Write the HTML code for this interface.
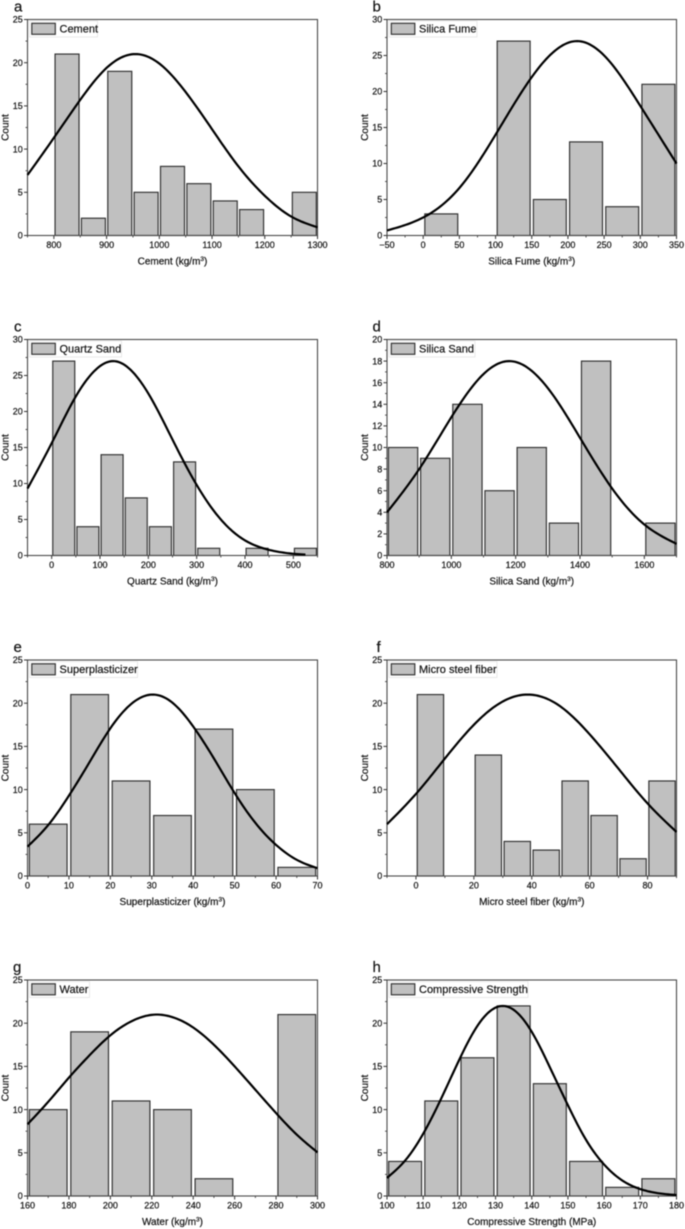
<!DOCTYPE html>
<html lang="en">
<head>
<meta charset="utf-8">
<title>Histograms of mix constituents</title>
<style>
html,body{margin:0;padding:0;background:#fff;width:685px;height:1229px;overflow:hidden}
svg{display:block;filter:blur(0.45px)}
text{font-family:"Liberation Sans",Arial,sans-serif;fill:#161616;stroke:#161616;stroke-width:0.22px}
</style>
</head>
<body>
<svg id="figure" xmlns="http://www.w3.org/2000/svg" width="685" height="1229" viewBox="0 0 685 1229"></svg>
<script>
// ---- Panel a: Cement
const cementBins = [800,850,900,950,1000,1050,1100,1150,1200,1250];
const cementCounts = [21,2,19,5,8,6,4,3,0,5];
const cementCurveX = [750,800,850,900,955,1000,1050,1100,1150,1200,1250,1300];
const cementCurveY = [7,11.3,15.7,19.4,21,19.9,16.6,12.3,8,4.6,2.2,0.95];
const cementXTicks = [800,900,1000,1100,1200,1300];
const cementXTickLabels = ['800','900','1000','1100','1200','1300'];
const cementYTicks = [0,5,10,15,20,25];
const cementYTickLabels = ['0','5','10','15','20','25'];

// ---- Panel b: Silica Fume
const fumeBins = [0,50,100,150,200,250,300];
const fumeCounts = [3,0,27,5,13,4,21];
const fumeCurveX = [-50,0,50,100,150,212,250,300,350];
const fumeCurveY = [0.7,2.5,6.6,14,22,27,25,18,10];
const fumeXTicks = [-50,0,50,100,150,200,250,300,350];
const fumeXTickLabels = ['\u221250','0','50','100','150','200','250','300','350'];
const fumeYTicks = [0,5,10,15,20,25,30];
const fumeYTickLabels = ['0','5','10','15','20','25','30'];

// ---- Panel c: Quartz Sand
const quartzBins = [0,50,100,150,200,250,300,350,400,450,500];
const quartzCounts = [27,4,14,8,4,13,1,0,1,0,1];
const quartzCurveX = [-50,0,50,100,127,150,200,250,300,350,400,450,500,525];
const quartzCurveY = [9.3,15.6,22.1,26.3,27,26.5,22.5,16.1,9.8,5,2.1,0.78,0.24,0.12];
const quartzXTicks = [0,100,200,300,400,500];
const quartzXTickLabels = ['0','100','200','300','400','500'];
const quartzYTicks = [0,5,10,15,20,25,30];
const quartzYTickLabels = ['0','5','10','15','20','25','30'];

// ---- Panel d: Silica Sand
const sandBins = [800,900,1000,1100,1200,1300,1400,1500,1600];
const sandCounts = [10,9,14,6,10,3,18,0,3];
const sandCurveX = [800,900,1000,1100,1180,1300,1400,1500,1600,1700];
const sandCurveY = [4,8,12.8,16.8,18,15.5,10.9,6.2,2.87,1.08];
const sandXTicks = [800,1000,1200,1400,1600];
const sandXTickLabels = ['800','1000','1200','1400','1600'];
const sandYTicks = [0,2,4,6,8,10,12,14,16,18,20];
const sandYTickLabels = ['0','2','4','6','8','10','12','14','16','18','20'];

// ---- Panel e: Superplasticizer
const plastBins = [0,10,20,30,40,50,60];
const plastCounts = [6,21,11,7,17,10,1];
const plastCurveX = [0,5,10,15,20,25,30.2,35,40,45,50,55,60,65,70];
const plastCurveY = [3.4,5.9,9.3,13.2,17.1,19.9,21,20.05,17.3,13.6,9.6,6.15,3.6,1.87,0.9];
const plastXTicks = [0,10,20,30,40,50,60,70];
const plastXTickLabels = ['0','10','20','30','40','50','60','70'];
const plastYTicks = [0,5,10,15,20,25];
const plastYTickLabels = ['0','5','10','15','20','25'];

// ---- Panel f: Micro steel fiber
const fiberBins = [0,10,20,30,40,50,60,70,80];
const fiberCounts = [21,0,14,4,3,11,7,2,11];
const fiberCurveX = [-10,0,10,20,30,38.5,50,60,70,80,90];
const fiberCurveY = [6,9.5,13.6,17.5,20.2,21,19.6,16.4,12.4,8.4,5.1];
const fiberXTicks = [0,20,40,60,80];
const fiberXTickLabels = ['0','20','40','60','80'];
const fiberYTicks = [0,5,10,15,20,25];
const fiberYTickLabels = ['0','5','10','15','20','25'];

// ---- Panel g: Water
const waterBins = [160,180,200,220,240,260,280];
const waterCounts = [10,19,11,10,2,0,21];
const waterCurveX = [160,170,180,190,200,210,222.5,230,240,250,260,270,280,290,300];
const waterCurveY = [8.3,10.9,13.7,16.3,18.6,20.2,21,20.7,19.5,17.5,15,12.3,9.6,7.1,5.05];
const waterXTicks = [160,180,200,220,240,260,280,300];
const waterXTickLabels = ['160','180','200','220','240','260','280','300'];
const waterYTicks = [0,5,10,15,20,25];
const waterYTickLabels = ['0','5','10','15','20','25'];

// ---- Panel h: Compressive Strength
const strengthBins = [100,110,120,130,140,150,160,170];
const strengthCounts = [4,11,16,22,13,4,1,2];
const strengthCurveX = [100,105,110,115,120,125,132,135,140,145,150,155,160,165,170,175,180];
const strengthCurveY = [2.1,4.1,7.2,11.3,15.8,19.7,22,21.55,19,14.9,10.5,6.5,3.64,1.8,0.8,0.32,0.11];
const strengthXTicks = [100,110,120,130,140,150,160,170,180];
const strengthXTickLabels = ['100','110','120','130','140','150','160','170','180'];
const strengthYTicks = [0,5,10,15,20,25];
const strengthYTickLabels = ['0','5','10','15','20','25'];

const SVG_NS = 'http://www.w3.org/2000/svg';
const figure = document.getElementById('figure');

function make(tag, parent, attrs) {
  const el = document.createElementNS(SVG_NS, tag);
  for (const k in attrs) el.setAttribute(k, attrs[k]);
  parent.appendChild(el);
  return el;
}

// natural cubic spline through the read-off curve points
function splineThrough(xs, ys) {
  const n = xs.length;
  const m = new Array(n).fill(0), c = new Array(n).fill(0), d = new Array(n).fill(0);
  for (let i = 1; i < n - 1; i++) {
    const h0 = xs[i] - xs[i-1], h1 = xs[i+1] - xs[i];
    const w = 2 * (h0 + h1) - h0 * c[i-1];
    c[i] = h1 / w;
    d[i] = (6 * ((ys[i+1]-ys[i]) / h1 - (ys[i]-ys[i-1]) / h0) - h0 * d[i-1]) / w;
  }
  for (let i = n - 2; i > 0; i--) m[i] = d[i] - c[i] * m[i+1];
  return function (x) {
    let i = 0;
    while (i < n - 2 && x > xs[i+1]) i++;
    const h = xs[i+1] - xs[i], a = (xs[i+1] - x) / h, b = (x - xs[i]) / h;
    return a*ys[i] + b*ys[i+1] + ((a*a*a - a)*m[i] + (b*b*b - b)*m[i+1]) * h*h / 6;
  };
}

function drawPanel(p) {
  const g = make('g', figure, {});
  
  

  const xScale = v => p.left + (v - p.xMin) / (p.xMax - p.xMin) * (p.right - p.left);
  const yScale = v => p.bottom - (v - p.yMin) / (p.yMax - p.yMin) * (p.bottom - p.top);

  const letter = make('text', g, {x: p.letterX, y: p.top - 8, 'font-size': 15});
  
  
  letter.textContent = p.letter;

  // bars
  const binW = p.bins[1] - p.bins[0];
  p.bins.forEach((b, i) => {
    if (!p.counts[i]) return;
    const cx = xScale(b + binW / 2);
    const w = (xScale(b + binW) - xScale(b)) * 0.91;
    const bar = make('rect', g, {
      x: cx - w / 2, y: yScale(p.counts[i]), width: w,
      height: yScale(0) - yScale(p.counts[i]),
      fill: '#c0c0c0', stroke: '#2e2e2e', 'stroke-width': 1.15
    });
    
    
  });

  // frame
  const frame = make('rect', g, {
    x: p.left, y: p.top, width: p.right - p.left, height: p.bottom - p.top,
    fill: 'none', stroke: '#4a4a4a', 'stroke-width': 1.1
  });
  
  

  // x ticks
  const xAxis = make('g', g, {});
  
  
  for (let k = Math.ceil((p.xMin - p.xTicks[0]) / p.xMinor); p.xTicks[0] + k * p.xMinor <= p.xMax; k++) {
    const v = p.xTicks[0] + k * p.xMinor;
    if (p.xTicks.indexOf(v) >= 0) continue;
    const minor = make('line', xAxis, {x1: xScale(v), x2: xScale(v), y1: p.bottom, y2: p.bottom + 2, stroke: '#444', 'stroke-width': 0.9});
    
    
  }
  p.xTicks.forEach((v, i) => {
    const tick = make('line', xAxis, {x1: xScale(v), x2: xScale(v), y1: p.bottom, y2: p.bottom + 3.5, stroke: '#333', 'stroke-width': 1});
    
    
    const label = make('text', xAxis, {x: xScale(v), y: p.bottom + 12.3, 'font-size': 9, 'text-anchor': 'middle'});
    
    
    label.textContent = p.xTickLabels[i];
  });

  // y ticks
  const yAxis = make('g', g, {});
  
  
  p.yTicks.forEach((v, i) => {
    const tick = make('line', yAxis, {x1: p.left - 3.5, x2: p.left, y1: yScale(v), y2: yScale(v), stroke: '#333', 'stroke-width': 1});
    
    
    const label = make('text', yAxis, {x: p.left - 4.7, y: yScale(v) + 3.2, 'font-size': 9, 'text-anchor': 'end'});
    
    
    label.textContent = p.yTickLabels[i];
    if (i < p.yTicks.length - 1) {
      const mid = (v + p.yTicks[i+1]) / 2;
      const minor = make('line', yAxis, {x1: p.left - 2, x2: p.left, y1: yScale(mid), y2: yScale(mid), stroke: '#444', 'stroke-width': 0.9});
      
      
    }
  });

  // fitted curve
  const f = splineThrough(p.curveX, p.curveY);
  const x0 = p.curveX[0], x1 = p.curveX[p.curveX.length - 1];
  let path = '';
  for (let i = 0; i <= 140; i++) {
    const xv = x0 + (x1 - x0) * i / 140;
    path += (i ? 'L' : 'M') + xScale(xv).toFixed(2) + ' ' + yScale(f(xv)).toFixed(2);
  }
  const curve = make('path', g, {d: path, fill: 'none', stroke: '#000', 'stroke-width': 2.2});
  
  

  // axis titles
  const cx = (p.left + p.right) / 2;
  const xTitle = make('text', g, {x: cx + p.xTitleShift, y: p.bottom + 29, 'font-size': 10, 'text-anchor': 'middle'});
  
  
  if (p.cubed) {
    xTitle.appendChild(document.createTextNode(p.xTitle + ' (kg/m'));
    const sup = make('tspan', xTitle, {dy: -3.5, 'font-size': 6.5});
    sup.textContent = '3';
    const close = make('tspan', xTitle, {dy: 3.5});
    close.textContent = ')';
  } else {
    xTitle.textContent = p.xTitle;
  }
  const cy = (p.top + p.bottom) / 2;
  const yTitle = make('text', g, {x: 0, y: 0, 'font-size': 10, 'text-anchor': 'middle', transform: 'translate(' + (p.left - 18.8) + ' ' + cy + ') rotate(-90)'});
  
  
  yTitle.textContent = 'Count';

  // legend
  const legend = make('g', g, {});
  
  
  const legendBox = make('rect', legend, {x: p.left + 2, y: p.top + 1.5, width: p.legendW, height: 16, fill: '#fff', stroke: '#e2e2e2', 'stroke-width': 0.7});
  
  
  const swatch = make('rect', legend, {x: p.left + 4.3, y: p.top + 3.8, width: 23.5, height: 11, fill: '#c0c0c0', stroke: '#2e2e2e', 'stroke-width': 1.15});
  
  
  const legendText = make('text', legend, {x: p.left + 32, y: p.top + 13.2, 'font-size': 11});
  
  
  legendText.textContent = p.legend;
}

const col1 = {left: 27.5, right: 317.5};
const col2 = {left: 387, right: 676.5};
const row1 = {top: 19.5, bottom: 235.5};
const row2 = {top: 339.5, bottom: 555.5};
const row3 = {top: 660, bottom: 876};
const row4 = {top: 980, bottom: 1196};

drawPanel({letter:'a', letterX:14, left:col1.left, right:col1.right, top:row1.top, bottom:row1.bottom,
  xMin:750, xMax:1300, xMinor:50, yMin:0, yMax:25, xTitle:'Cement', cubed:true, xTitleShift:0, legend:'Cement', legendW:68,
  bins:cementBins, counts:cementCounts, curveX:cementCurveX, curveY:cementCurveY,
  xTicks:cementXTicks, xTickLabels:cementXTickLabels, yTicks:cementYTicks, yTickLabels:cementYTickLabels});
drawPanel({letter:'b', letterX:372.5, left:col2.left, right:col2.right, top:row1.top, bottom:row1.bottom,
  xMin:-50, xMax:350, xMinor:25, yMin:0, yMax:30, xTitle:'Silica Fume', cubed:true, xTitleShift:0, legend:'Silica Fume', legendW:88,
  bins:fumeBins, counts:fumeCounts, curveX:fumeCurveX, curveY:fumeCurveY,
  xTicks:fumeXTicks, xTickLabels:fumeXTickLabels, yTicks:fumeYTicks, yTickLabels:fumeYTickLabels});
drawPanel({letter:'c', letterX:14, left:col1.left, right:col1.right, top:row2.top, bottom:row2.bottom,
  xMin:-50, xMax:550, xMinor:50, yMin:0, yMax:30, xTitle:'Quartz Sand', cubed:true, xTitleShift:0, legend:'Quartz Sand', legendW:92,
  bins:quartzBins, counts:quartzCounts, curveX:quartzCurveX, curveY:quartzCurveY,
  xTicks:quartzXTicks, xTickLabels:quartzXTickLabels, yTicks:quartzYTicks, yTickLabels:quartzYTickLabels});
drawPanel({letter:'d', letterX:372.5, left:col2.left, right:col2.right, top:row2.top, bottom:row2.bottom,
  xMin:800, xMax:1700, xMinor:100, yMin:0, yMax:20, xTitle:'Silica Sand', cubed:true, xTitleShift:0, legend:'Silica Sand', legendW:86,
  bins:sandBins, counts:sandCounts, curveX:sandCurveX, curveY:sandCurveY,
  xTicks:sandXTicks, xTickLabels:sandXTickLabels, yTicks:sandYTicks, yTickLabels:sandYTickLabels});
drawPanel({letter:'e', letterX:13.5, left:col1.left, right:col1.right, top:row3.top, bottom:row3.bottom,
  xMin:0, xMax:70, xMinor:5, yMin:0, yMax:25, xTitle:'Superplasticizer', cubed:true, xTitleShift:0, legend:'Superplasticizer', legendW:108,
  bins:plastBins, counts:plastCounts, curveX:plastCurveX, curveY:plastCurveY,
  xTicks:plastXTicks, xTickLabels:plastXTickLabels, yTicks:plastYTicks, yTickLabels:plastYTickLabels});
drawPanel({letter:'f', letterX:376.5, left:col2.left, right:col2.right, top:row3.top, bottom:row3.bottom,
  xMin:-10, xMax:90, xMinor:10, yMin:0, yMax:25, xTitle:'Micro steel fiber', cubed:true, xTitleShift:0, legend:'Micro steel fiber', legendW:108,
  bins:fiberBins, counts:fiberCounts, curveX:fiberCurveX, curveY:fiberCurveY,
  xTicks:fiberXTicks, xTickLabels:fiberXTickLabels, yTicks:fiberYTicks, yTickLabels:fiberYTickLabels});
drawPanel({letter:'g', letterX:13, left:col1.left, right:col1.right, top:row4.top, bottom:row4.bottom,
  xMin:160, xMax:300, xMinor:10, yMin:0, yMax:25, xTitle:'Water', cubed:true, xTitleShift:0, legend:'Water', legendW:60,
  bins:waterBins, counts:waterCounts, curveX:waterCurveX, curveY:waterCurveY,
  xTicks:waterXTicks, xTickLabels:waterXTickLabels, yTicks:waterYTicks, yTickLabels:waterYTickLabels});
drawPanel({letter:'h', letterX:372.5, left:col2.left, right:col2.right, top:row4.top, bottom:row4.bottom,
  xMin:100, xMax:180, xMinor:5, yMin:0, yMax:25, xTitle:'Compressive Strength (MPa)', cubed:false, xTitleShift:0, legend:'Compressive Strength', legendW:139,
  bins:strengthBins, counts:strengthCounts, curveX:strengthCurveX, curveY:strengthCurveY,
  xTicks:strengthXTicks, xTickLabels:strengthXTickLabels, yTicks:strengthYTicks, yTickLabels:strengthYTickLabels});
</script>
</body>
</html>
